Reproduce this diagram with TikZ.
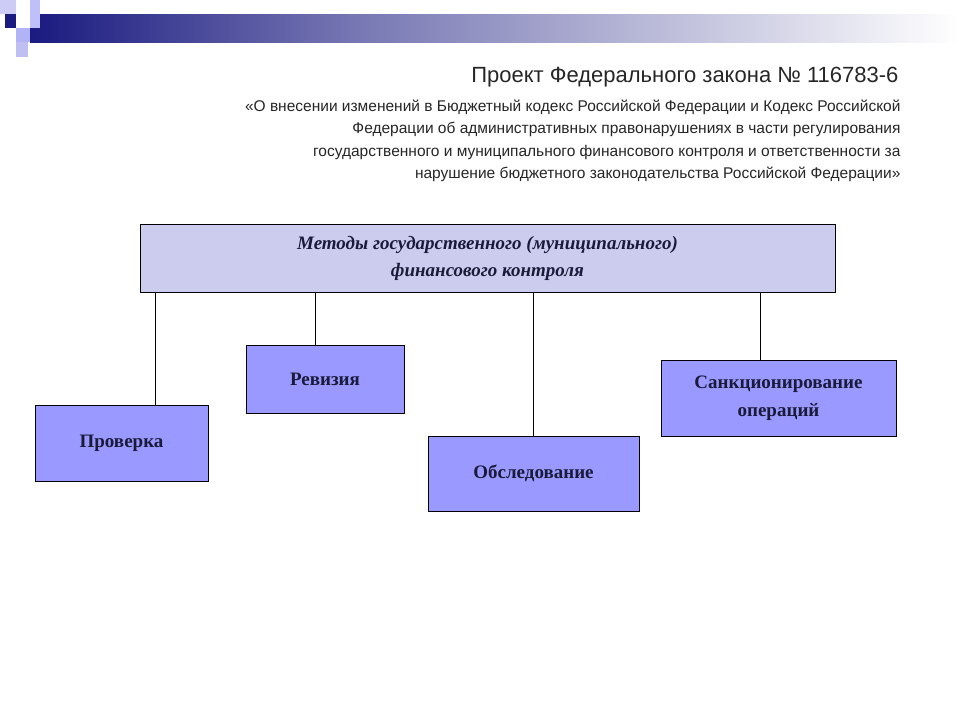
\documentclass[tikz,border=0pt]{standalone}
\usepackage{fontspec}
\setmainfont{Liberation Serif}
\newfontfamily\arialf{Liberation Sans}
\definecolor{navy}{HTML}{1A1A80}
\definecolor{topf}{HTML}{CCCCEE}
\definecolor{boxf}{HTML}{9999FF}
\definecolor{txt}{HTML}{1A1A3A}
\tikzset{
 topbox/.style={draw=black,fill=topf,line width=0.8pt,minimum width=695pt,minimum height=68pt,align=center,font=\fontsize{19}{27}\selectfont\bfseries\itshape,text=txt},
 methbox/.style={draw=black,fill=boxf,line width=0.8pt,align=center,font=\fontsize{19}{28}\selectfont\bfseries,text=txt},
 conn/.style={draw=black,line width=0.7pt}
}
\begin{document}
\begin{tikzpicture}[x=1pt,y=-1pt]
\useasboundingbox (0,0) rectangle (960,720);
\fill[white] (0,0) rectangle (960,720);
% decoration
\shade[left color=navy,right color=white] (30,14) rectangle (960,42);
\fill[navy] (30,14) rectangle (200,42);
\shade[left color=navy,right color=navy!60!white] (30,14) rectangle (350,42);
\shade[left color=navy!60!white,right color=white] (349,14) rectangle (960,42);
\fill[black!15!blue!20] (0,0) rectangle (16,14);
\fill[navy] (5,14) rectangle (16,28);
\fill[black!10!blue!25] (30,0) rectangle (40,28);
\fill[black!10!blue!30] (16,28) rectangle (30,42);
\fill[black!20!blue!25] (16,42) rectangle (28,57);
% title
\node[anchor=north east,font=\arialf\fontsize{22}{26}\selectfont,text=black!85] (t) at (902,64) {Проект Федерального закона № 116783-6};
\node[anchor=north east,align=right,font=\arialf\fontsize{15.5}{22.5}\selectfont,text=black!85] (s) at (904,96)
{«О внесении изменений в Бюджетный кодекс Российской Федерации и Кодекс Российской\\
Федерации об административных правонарушениях в части регулирования\\
государственного и муниципального финансового контроля и ответственности за\\
нарушение бюджетного законодательства Российской Федерации»};
% boxes
\node[topbox] (top) at (487.5,258) {Методы государственного (муниципального)\\финансового контроля};
\node[methbox,minimum width=173pt,minimum height=76pt] (p) at (121.5,443) {Проверка};
\node[methbox,minimum width=158pt,minimum height=68pt] (r) at (325,379) {Ревизия};
\node[methbox,minimum width=211pt,minimum height=75pt] (o) at (533.5,473.5) {Обследование};
\node[methbox,minimum width=235pt,minimum height=76pt] (s2) at (778.5,398) {Санкционирование\\операций};
\draw[conn] (p.north -| 155,0) -- (155,292);
\draw[conn] (r.north -| 315,0) -- (315,292);
\draw[conn] (o.north) -- (o.north |- top.south);
\draw[conn] (s2.north -| 760,0) -- (760,292);
\end{tikzpicture}
\end{document}
